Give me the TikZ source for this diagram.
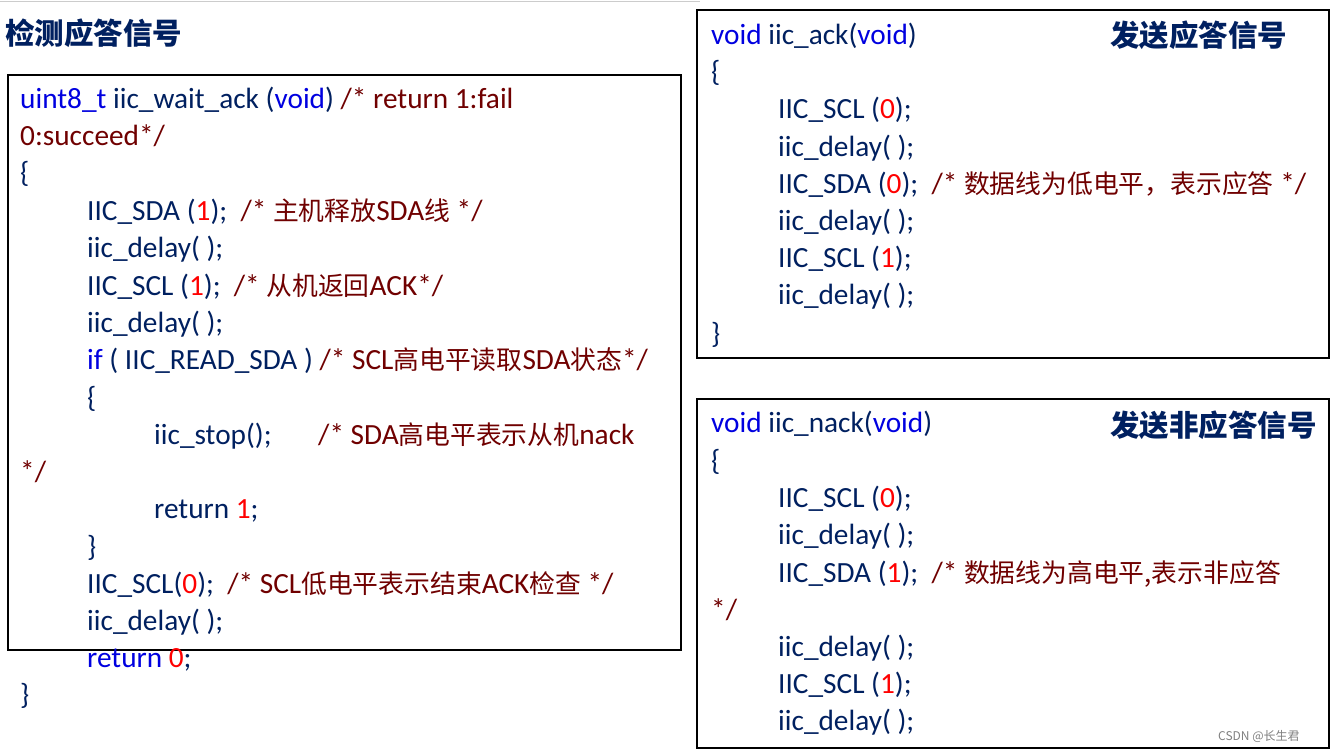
\documentclass[tikz,border=0pt]{standalone}
\usepackage{fontspec}
\setmainfont{Carlito}
\newfontfamily\cjk{Noto Sans CJK SC}
\definecolor{navy}{HTML}{002060}
\definecolor{kw}{HTML}{0000E0}
\definecolor{cm}{HTML}{700000}
\definecolor{nm}{HTML}{FF0000}
\newcommand{\K}[1]{\textcolor{kw}{#1}}
\newcommand{\Cm}[1]{\textcolor{cm}{#1}}
\newcommand{\Nm}[1]{\textcolor{nm}{#1}}
\newcommand{\Z}[1]{{\cjk\fontsize{25.8}{25.8}\selectfont #1}}
\begin{document}
\begin{tikzpicture}[x=1pt,y=-1pt,
  code/.style={anchor=base west,inner sep=0pt,text=navy,font=\fontsize{29.3}{29.3}\selectfont},
  ttl/.style={anchor=base west,inner sep=0pt,text=navy,font=\cjk\bfseries\fontsize{29.5}{29.5}\selectfont},
  frame/.style={draw=black,line width=1.3pt}]
\useasboundingbox[fill=white] (0,0) rectangle (1333,751);
\draw[gray!40] (0,1) -- (700,1);
\node[ttl] (t1) at (5,45) {检测应答信号};
\node[ttl] (t2) at (1110,47) {发送应答信号};
\node[ttl] (t3) at (1110,436) {发送非应答信号};
\draw[frame] (8,75) rectangle (681,650);
\draw[frame] (697,10) rectangle (1329,358);
\draw[frame] (697,399) rectangle (1329,748);
% left code
\node[code] (l1) at (20,109) {\K{uint8\_t} iic\_wait\_ack (\K{void}) \Cm{/* return 1:fail}};
\node[code] (l2) at (20,146) {\Cm{0:succeed*/}};
\node[code] (l3) at (20,183) {\{};
\node[code] (l4) at (87,221) {IIC\_SDA (\Nm{1});\ \ \Cm{/* \Z{主机释放}SDA\Z{线} */}};
\node[code] (l5) at (87,258) {iic\_delay( );};
\node[code] (l6) at (87,295) {IIC\_SCL (\Nm{1});\ \ \Cm{/* \Z{从机返回}ACK*/}};
\node[code] (l7) at (87,332) {iic\_delay( );};
\node[code] (l8) at (87,369) {\K{if} ( IIC\_READ\_SDA ) \Cm{/* SCL\Z{高电平读取}SDA\Z{状态}*/}};
\node[code] (l9) at (87,407) {\{};
\node[code] (l10) at (154,444) {iic\_stop();};
\node[code] (l10b) at (318,444) {\Cm{/* SDA\Z{高电平表示从机}nack}};
\node[code] (l11) at (20,481) {\Cm{*/}};
\node[code] (l12) at (154,518) {return \Nm{1};};
\node[code] (l13) at (87,556) {\}};
\node[code] (l14) at (87,593) {IIC\_SCL(\Nm{0});\ \ \Cm{/* SCL\Z{低电平表示结束}ACK\Z{检查} */}};
\node[code] (l15) at (87,630) {iic\_delay( );};
\node[code] (l16) at (87,667) {\K{return} \Nm{0};};
\node[code] (l17) at (20,704) {\}};
% right top
\node[code] (a1) at (711,45) {\K{void} iic\_ack(\K{void})};
\node[code] (a2) at (711,82) {\{};
\node[code] (a3) at (778,119) {IIC\_SCL (\Nm{0});};
\node[code] (a4) at (778,157) {iic\_delay( );};
\node[code] (a5) at (778,194) {IIC\_SDA (\Nm{0});\ \ \Cm{/* \Z{数据线为低电平，表示应答} */}};
\node[code] (a6) at (778,231) {iic\_delay( );};
\node[code] (a7) at (778,268) {IIC\_SCL (\Nm{1});};
\node[code] (a8) at (778,305) {iic\_delay( );};
\node[code] (a9) at (711,343) {\}};
% right bottom
\node[code] (n1) at (711,432) {\K{void} iic\_nack(\K{void})};
\node[code] (n2) at (711,470) {\{};
\node[code] (n3) at (778,507) {IIC\_SCL (\Nm{0});};
\node[code] (n4) at (778,544) {iic\_delay( );};
\node[code] (n5) at (778,582) {IIC\_SDA (\Nm{1});\ \ \Cm{/* \Z{数据线为高电平,表示非应答}}};
\node[code] (n6) at (711,619) {\Cm{*/}};
\node[code] (n7) at (778,656) {iic\_delay( );};
\node[code] (n8) at (778,693) {IIC\_SCL (\Nm{1});};
\node[code] (n9) at (778,730) {iic\_delay( );};
\node[anchor=base west,inner sep=0pt,text=gray,font=\cjk\fontsize{12}{12}\selectfont] (wm) at (1218,740) {CSDN @长生君};
\end{tikzpicture}
\end{document}
